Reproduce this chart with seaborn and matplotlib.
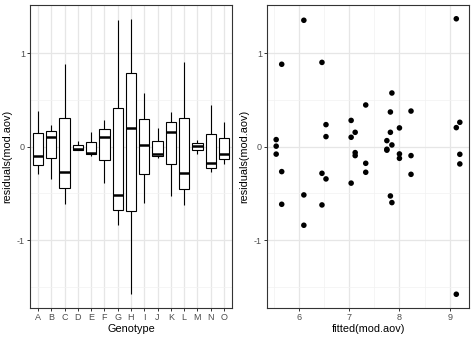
import numpy as np
import pandas as pd
import matplotlib
matplotlib.use("Agg")
import matplotlib.pyplot as plt
import seaborn as sns
from matplotlib.ticker import MultipleLocator, FixedLocator

genotypes = list("ABCDEFGHIJKLMNO")
fitted_vals = [8.23, 6.54, 5.66, 7.75, 7.12, 7.04, 6.10, 9.13, 7.85, 8.00, 7.82, 6.46, 5.55, 7.33, 9.20]
res_hi = [0.380, 0.235, 0.880, 0.064, 0.153, 0.280, 1.350, 1.366, 0.573, 0.200, 0.370, 0.900, 0.075, 0.445, 0.260]
res_mid = [-0.096, 0.107, -0.267, -0.028, -0.064, 0.100, -0.516, 0.203, 0.018, -0.078, 0.153, -0.285, 0.005, -0.178, -0.082]
res_lo = [-0.296, -0.345, -0.616, -0.038, -0.096, -0.390, -0.840, -1.577, -0.598, -0.125, -0.527, -0.623, -0.080, -0.274, -0.185]

rows = []
for g, f, a, b, c in zip(genotypes, fitted_vals, res_hi, res_mid, res_lo):
    for r in (a, b, c):
        rows.append({"Genotype": g, "fitted": f, "resid": r})
df = pd.DataFrame(rows)

sns.set_theme(style="white")
plt.rcParams["font.family"] = ["Liberation Sans", "DejaVu Sans"]

fig = plt.figure(figsize=(4.74, 3.38), dpi=100)
W, H = 474, 338
def pos(x0, y0, x1, y1):
    return [x0 / W, 1 - y1 / H, (x1 - x0) / W, (y1 - y0) / H]

ax1 = fig.add_axes(pos(30, 5, 232, 308))
ax2 = fig.add_axes(pos(267, 5, 469, 308))

border = "#333333"
grid_major = "#E6E6E6"
grid_minor = "#F2F2F2"
tick_col = "#4D4D4D"

lo = df["resid"].min(); hi = df["resid"].max(); rng = hi - lo
ylims = (lo - 0.05 * rng, hi + 0.05 * rng)

sns.boxplot(data=df, x="Genotype", y="resid", order=genotypes, ax=ax1,
            width=0.78, color="white", whis=np.inf, linecolor="black",
            linewidth=0.8,
            boxprops=dict(facecolor="white", edgecolor="black"),
            medianprops=dict(color="black", linewidth=1.8),
            whiskerprops=dict(color="black"), capprops=dict(linewidth=0),
            zorder=3)
ax1.set_xlim(-0.6, len(genotypes) - 0.4)

sns.scatterplot(data=df, x="fitted", y="resid", ax=ax2, color="black",
                s=16, edgecolor="none", zorder=3)
flo = df["fitted"].min(); fhi = df["fitted"].max(); frng = fhi - flo
ax2.set_xlim(flo - 0.05 * frng, fhi + 0.05 * frng)
ax2.xaxis.set_major_locator(MultipleLocator(1))
ax2.xaxis.set_minor_locator(FixedLocator([5.5, 6.5, 7.5, 8.5]))

for ax in (ax1, ax2):
    ax.set_ylim(*ylims)
    ax.yaxis.set_major_locator(FixedLocator([-1, 0, 1]))
    ax.yaxis.set_minor_locator(FixedLocator([-1.5, -0.5, 0.5]))
    ax.set_axisbelow(True)
    ax.grid(True, which="major", color=grid_major, linewidth=0.9)
    ax.grid(True, which="minor", color=grid_minor, linewidth=0.5)
    for sp in ax.spines.values():
        sp.set_visible(True)
        sp.set_color(border)
        sp.set_linewidth(0.8)
    ax.tick_params(axis="both", which="major", length=2.5, width=0.7,
                   color=border, labelcolor=tick_col, labelsize=6.5, pad=1.2,
                   left=True, bottom=True)
    ax.tick_params(axis="both", which="minor", length=0)
    ax.set_ylabel("residuals(mod.aov)", fontsize=7.8, color="black", labelpad=3)
    ax.set_yticklabels(["-1", "0", "1"])

ax1.set_xlabel("Genotype", fontsize=7.8, color="black", labelpad=1)
ax2.set_xlabel("fitted(mod.aov)", fontsize=7.8, color="black", labelpad=1)

fig.savefig("out.png", dpi=100)
